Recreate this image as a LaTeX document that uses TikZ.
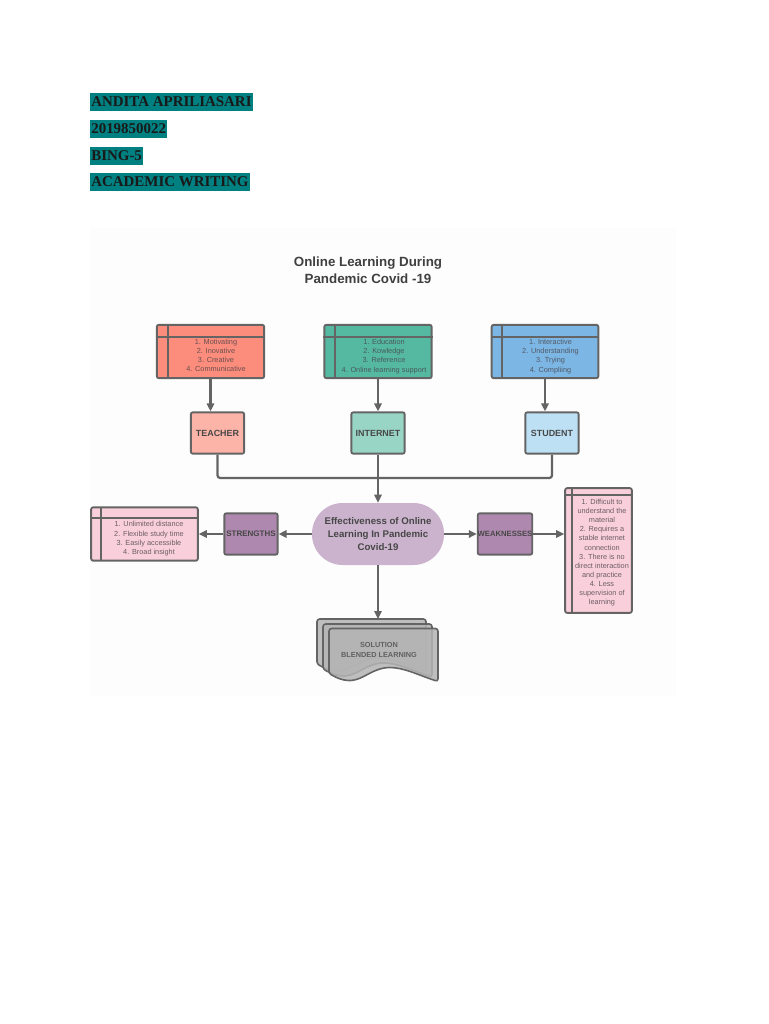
\documentclass[tikz,border=0pt]{standalone}
\usepackage{fontspec}
\setmainfont{Liberation Sans}
\newfontfamily\headfont{Liberation Serif}
\definecolor{tealmark}{RGB}{0, 128, 128}
\definecolor{linegray}{RGB}{100, 100, 100}
\definecolor{listtext}{RGB}{70, 65, 70}
\definecolor{redtab}{RGB}{252, 140, 124}
\definecolor{redbox}{RGB}{253, 180, 168}
\definecolor{greentab}{RGB}{85, 185, 162}
\definecolor{greenbox}{RGB}{153, 213, 197}
\definecolor{bluetab}{RGB}{124, 182, 228}
\definecolor{bluebox}{RGB}{190, 224, 245}
\definecolor{pinktab}{RGB}{250, 207, 220}
\definecolor{purplebox}{RGB}{174, 136, 174}
\definecolor{pillfill}{RGB}{203, 179, 205}
\definecolor{sheetfill}{RGB}{180, 180, 180}
\usetikzlibrary{arrows.meta, positioning, calc}
\tikzset{
  headline/.style={fill=tealmark, anchor=west, inner xsep=0.8pt, inner ysep=0pt, minimum height=13.5pt, text=black!90, font=\headfont\bfseries\fontsize{11.2}{13}\selectfont},
  tabbox/.style={draw=linegray, line width=1.4pt, rounded corners=1.5pt, inner sep=0pt},
  tabline/.style={draw=linegray, line width=1.2pt},
  listtxt/.style={align=center, text=listtext, text opacity=0.8, inner sep=0pt, font=\fontsize{5.5}{6.85}\selectfont},
  actor/.style={draw=linegray, line width=1.4pt, rounded corners=1.5pt, minimum width=40pt, minimum height=31pt, inner sep=0pt, text=black!72, font=\bfseries\fontsize{6.7}{8}\selectfont},
  flow/.style={draw=linegray, line width=1.7pt, -{Triangle[length=6pt,width=5.5pt]}},
  bus/.style={draw=linegray, line width=1.7pt, rounded corners=2pt},
  sheet/.style={draw=linegray, line width=1.2pt, fill=sheetfill, fill opacity=0.85, rounded corners=2pt}
}
\begin{document}
\begin{tikzpicture}[x=0.75pt, y=-0.75pt]
  \useasboundingbox (0, 0) rectangle (768, 1024);
  \fill[white] (0, 0) rectangle (768, 1024);

  % Student data
  \node[headline] (name) at (90, 102) {ANDITA APRILIASARI};
  \node[headline] (number) at (90, 129) {2019850022};
  \node[headline] (group) at (90, 156) {BING-5};
  \node[headline] (course) at (90, 182) {ACADEMIC WRITING};

  % Diagram sheet
  \fill[black!0.9] (90, 228) rectangle (676, 696);
  \node[align=center, text=black!75, font=\bfseries\fontsize{10}{12.75}\selectfont] (title) at (368, 270.5) {Online Learning During\\Pandemic Covid -19};

  % Top tables
  \node[tabbox, fill=redtab, minimum width=80.5pt, minimum height=40pt] (redtable) at (210.5, 351.5) {};
  \draw[tabline] (redtable.west |- 0, 337) -- (redtable.east |- 0, 337);
  \draw[tabline] (168, 325) -- (168, 378);
  \node[listtxt] (redlist) at (216, 355.5) {1. Motivating\\2. Inovative\\3. Creative\\4. Communicative};

  \node[tabbox, fill=greentab, minimum width=80.5pt, minimum height=40pt] (greentable) at (378, 351.5) {};
  \draw[tabline] (greentable.west |- 0, 337) -- (greentable.east |- 0, 337);
  \draw[tabline] (335, 325) -- (335, 378);
  \node[listtxt] (greenlist) at (384, 356.5) {1. Education\\2. Kowledge\\3. Reference\\4. Online learning support};

  \node[tabbox, fill=bluetab, minimum width=80pt, minimum height=40pt] (bluetable) at (545, 351.5) {};
  \draw[tabline] (bluetable.west |- 0, 337) -- (bluetable.east |- 0, 337);
  \draw[tabline] (502, 325) -- (502, 378);
  \node[listtxt] (bluelist) at (550.5, 356.5) {1. Interactive\\2. Understanding\\3. Trying\\4. Compliing};

  % Actors
  \node[actor, fill=redbox] (teacher) at (217.5, 433) {TEACHER};
  \node[actor, fill=greenbox] (internet) at (378, 433) {INTERNET};
  \node[actor, fill=bluebox] (student) at (552, 433) {STUDENT};

  \draw[flow] (redtable.south) -- (redtable.south |- teacher.north);
  \draw[flow] (greentable.south) -- (internet.north);
  \draw[flow] (bluetable.south) -- (bluetable.south |- student.north);

  % Center
  \node[fill=pillfill, rounded corners=23pt, minimum width=99pt, minimum height=46.5pt, inner sep=0pt, align=center, text=black!72, font=\bfseries\fontsize{7.25}{9.5}\selectfont] (effect) at (378, 534) {Effectiveness of Online\\Learning In Pandemic\\Covid-19};

  \coordinate (busline) at (378, 478);
  \draw[bus] (teacher.south) -- (teacher.south |- busline) -- (student.south |- busline) -- (student.south);
  \draw[flow] (internet.south) -- (effect.north);

  % Left and right
  \node[actor, fill=purplebox, font=\bfseries\fontsize{6}{8}\selectfont] (strengths) at (251, 534) {STRENGTHS};
  \node[actor, fill=purplebox, font=\bfseries\fontsize{5.75}{8}\selectfont] (weaknesses) at (505, 534) {WEAKNESSES};

  \node[tabbox, fill=pinktab, minimum width=80pt, minimum height=40pt] (lefttable) at (144.5, 534) {};
  \draw[tabline] (lefttable.west |- 0, 518) -- (lefttable.east |- 0, 518);
  \draw[tabline] (101, 507) -- (101, 561);
  \node[listtxt] (leftlist) at (149, 538.7) {1. Unlimited distance\\2. Flexible study time\\3. Easily accessible\\4. Broad insight};

  \node[tabbox, fill=pinktab, minimum width=50pt, minimum height=93.5pt] (righttable) at (598.5, 550.5) {};
  \draw[tabline] (righttable.west |- 0, 495) -- (righttable.east |- 0, 495);
  \draw[tabline] (572, 488) -- (572, 613);
  \node[listtxt] (rightlist) at (602, 552.7) {1. Difficult to\\understand the\\material\\2. Requires a\\stable internet\\connection\\3. There is no\\direct interaction\\and practice\\4. Less\\supervision of\\learning};

  \draw[flow] (effect.west) -- (strengths.east);
  \draw[flow] (strengths.west) -- (lefttable.east);
  \draw[flow] (effect.east) -- (weaknesses.west);
  \draw[flow] (weaknesses.east) -- (righttable.west |- weaknesses.east);

  % Solution sheets
  \foreach \dx/\dy in {0/0, 6/5, 12/9.5} {
    \draw[sheet, shift={(\dx, \dy)}] (317, 664) -- (317, 619) -- (426, 619) -- (426, 672)
      .. controls (405, 665) and (392, 658) .. (375, 658)
      .. controls (352, 662) and (345, 680) .. (317, 664) -- cycle;
  }
  \coordinate (docs) at (378, 619);
  \draw[flow] (effect.south) -- (docs);
  \node[align=center, text=black!62, font=\bfseries\fontsize{5.5}{7.1}\selectfont] (solution) at (379, 650) {SOLUTION\\BLENDED LEARNING};
\end{tikzpicture}
\end{document}
